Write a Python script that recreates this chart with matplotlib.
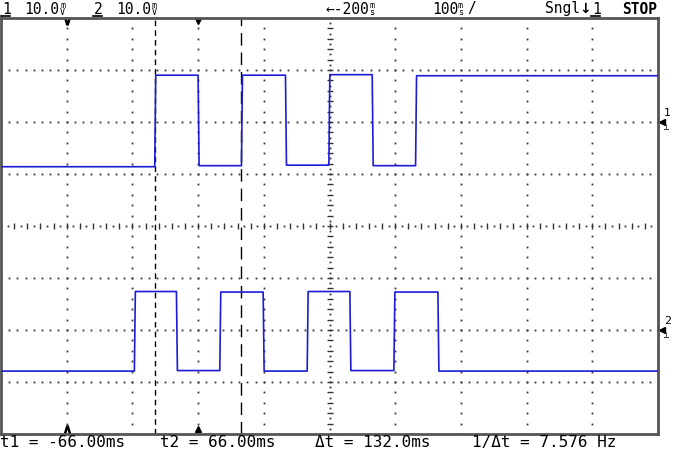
import numpy as np
import matplotlib
matplotlib.use("Agg")
import matplotlib.pyplot as plt
from matplotlib.lines import Line2D

# Scope settings
t_min, t_max = -300, 700          # ms, 100 ms/div, delay -200 ms
y_div = 4                         # 8 vertical divisions
volts_per_div = 10.0              # mV/div on both channels

# Channel 1: edges (ms), starts low, alternates
ch1_edges = [-66, 0, 66, 133, 199, 265, 331]
ch1_levels = [-8.6, 9.0, -8.4, 9.0, -8.3, 9.1, -8.4, 8.9]   # mV per segment
ch1_offset = 2.0                  # ground marker, divisions

# Channel 2
ch2_edges = [-97, -33, 33, 99, 166, 231, 298, 365]
ch2_levels = [-7.9, 7.4, -7.8, 7.3, -7.9, 7.4, -7.8, 7.3, -7.9]
ch2_offset = -2.0

cursor_t1 = -66.0
cursor_t2 = 66.0
trigger_t = 0.0
delay_ref = -200.0

trace_col = "#1c1cd8"


def step_trace(edges, levels):
    xs = [t_min]
    ys = [levels[0]]
    for i, e in enumerate(edges):
        xs += [e, e + 1.5]
        ys += [levels[i], levels[i + 1]]
    xs.append(t_max)
    ys.append(levels[-1])
    return np.array(xs), np.array(ys)


fig = plt.figure(figsize=(6.74, 4.52), dpi=100)
ax = fig.add_axes([1 / 674, 1 - 435 / 452, 657 / 674, 416 / 452])
ax.set_xlim(t_min, t_max)
ax.set_ylim(-y_div, y_div)
ax.set_xticks([])
ax.set_yticks([])
for s in ax.spines.values():
    s.set_color("#555555")
    s.set_linewidth(2)

# graticule: dotted lines
dot = dict(ls="none", marker="s", ms=1.3, mew=0, color="#333333", zorder=1)
xs_dots = np.arange(t_min, t_max + 1, 100 / 8)
ys_dots = np.arange(-y_div, y_div + 0.01, 1 / 5)
for gy in [-3, -2, -1, 1, 2, 3]:
    ax.plot(xs_dots, np.full_like(xs_dots, gy), **dot)
for gx in [-200, -100, 0, 100, 300, 400, 500, 600]:
    ax.plot(np.full_like(ys_dots, gx), ys_dots, **dot)

# centre axes with ticks
tx = np.arange(t_min, t_max + 1, 20)
ax.plot(tx + 10, np.zeros_like(tx), **dot)
ax.plot(tx, np.zeros_like(tx), ls="none", marker="|", ms=5, mew=1,
        color="#333333", zorder=1)
ty = np.arange(-y_div, y_div + 0.01, 0.2)
ax.plot(np.full_like(ty, 200), ty + 0.1, **dot)
ax.plot(np.full_like(ty, 200), ty, ls="none", marker="_", ms=5, mew=1,
        color="#333333", zorder=1)

# traces
x1, v1 = step_trace(ch1_edges, ch1_levels)
ax.plot(x1, ch1_offset + v1 / volts_per_div, color=trace_col, lw=1.2, zorder=3)
x2, v2 = step_trace(ch2_edges, ch2_levels)
ax.plot(x2, ch2_offset + v2 / volts_per_div, color=trace_col, lw=1.2, zorder=3)

# cursors
ax.axvline(cursor_t1, color="black", lw=1, ls=(0, (4, 3)), zorder=2)
ax.axvline(cursor_t2, color="black", lw=1, ls=(0, (9, 5)), zorder=2)

# screen markers
ax.plot([delay_ref], [y_div - 0.06], marker="$\\vee$", ms=5, color="black", clip_on=False)
ax.plot([trigger_t], [y_div - 0.05], marker="v", ms=5, color="black", clip_on=False)
ax.plot([delay_ref], [-y_div + 0.1], marker="$\\wedge$", ms=5, color="black", clip_on=False)
ax.plot([trigger_t], [-y_div + 0.1], marker="^", ms=5, color="black", clip_on=False)

# ground markers at right
for off, lab in [(ch1_offset, "1"), (ch2_offset, "2")]:
    ax.plot([t_max + 6], [off], marker="<", ms=5, color="black", clip_on=False)
    ax.text(t_max + 9, off + 0.1, lab, fontsize=8, family="DejaVu Sans",
            ha="left", va="bottom", clip_on=False)
    ax.text(t_max + 8, off - 0.05, "\u2534", fontsize=6, family="DejaVu Sans Mono",
            ha="left", va="top", clip_on=False)

hdr = dict(family="DejaVu Sans Mono", fontsize=10.5, color="black")
mono = dict(family="DejaVu Sans Mono", fontsize=11.5, color="black")


def px(x, y):
    return x / 674, 1 - y / 452


def unit(x, top, bottom):
    fig.text(*px(x, 7.5), top, ha="left", va="baseline",
             family="DejaVu Sans Mono", fontsize=6)
    fig.text(*px(x, 15), bottom, ha="left", va="baseline",
             family="DejaVu Sans Mono", fontsize=6)


def underline(x0, x1, y):
    fig.add_artist(Line2D([x0 / 674, x1 / 674], [1 - y / 452, 1 - y / 452],
                          color="black", lw=1.2))


hy = 9
fig.text(*px(2, hy), "1", ha="left", va="center", **hdr)
underline(1, 10, 17)
fig.text(*px(24, hy), "10.0", ha="left", va="center", **hdr)
unit(60, "m", "V")
fig.text(*px(94, hy), "2", ha="left", va="center", **hdr)
underline(93, 102, 17)
fig.text(*px(116, hy), "10.0", ha="left", va="center", **hdr)
unit(152, "m", "V")
fig.text(*px(326, hy), "\u2190-200", ha="left", va="center", **hdr)
unit(369, "m", "s")
fig.text(*px(432, hy), "100", ha="left", va="center", **hdr)
unit(458, "m", "s")
fig.text(*px(467, hy), "/", ha="left", va="center", **hdr)
fig.text(*px(545, hy), "Sngl", ha="left", va="center", **hdr)
fig.text(*px(579, hy), "\u2193", ha="left", va="center",
         family="DejaVu Sans", fontsize=10, weight="bold")
fig.text(*px(592, hy), "1", ha="left", va="center", **hdr)
underline(591, 600, 17)
fig.text(*px(622, hy), "STOP", ha="left", va="center", weight="bold", **hdr)

by = 443
fig.text(*px(0, by), "t1 = -66.00ms", ha="left", va="center", **mono)
fig.text(*px(160, by), "t2 = 66.00ms", ha="left", va="center", **mono)
fig.text(*px(315, by), "\u0394t = 132.0ms", ha="left", va="center", **mono)
fig.text(*px(472, by), "1/\u0394t = 7.576 Hz", ha="left", va="center", **mono)

fig.savefig("out.png", dpi=100)
